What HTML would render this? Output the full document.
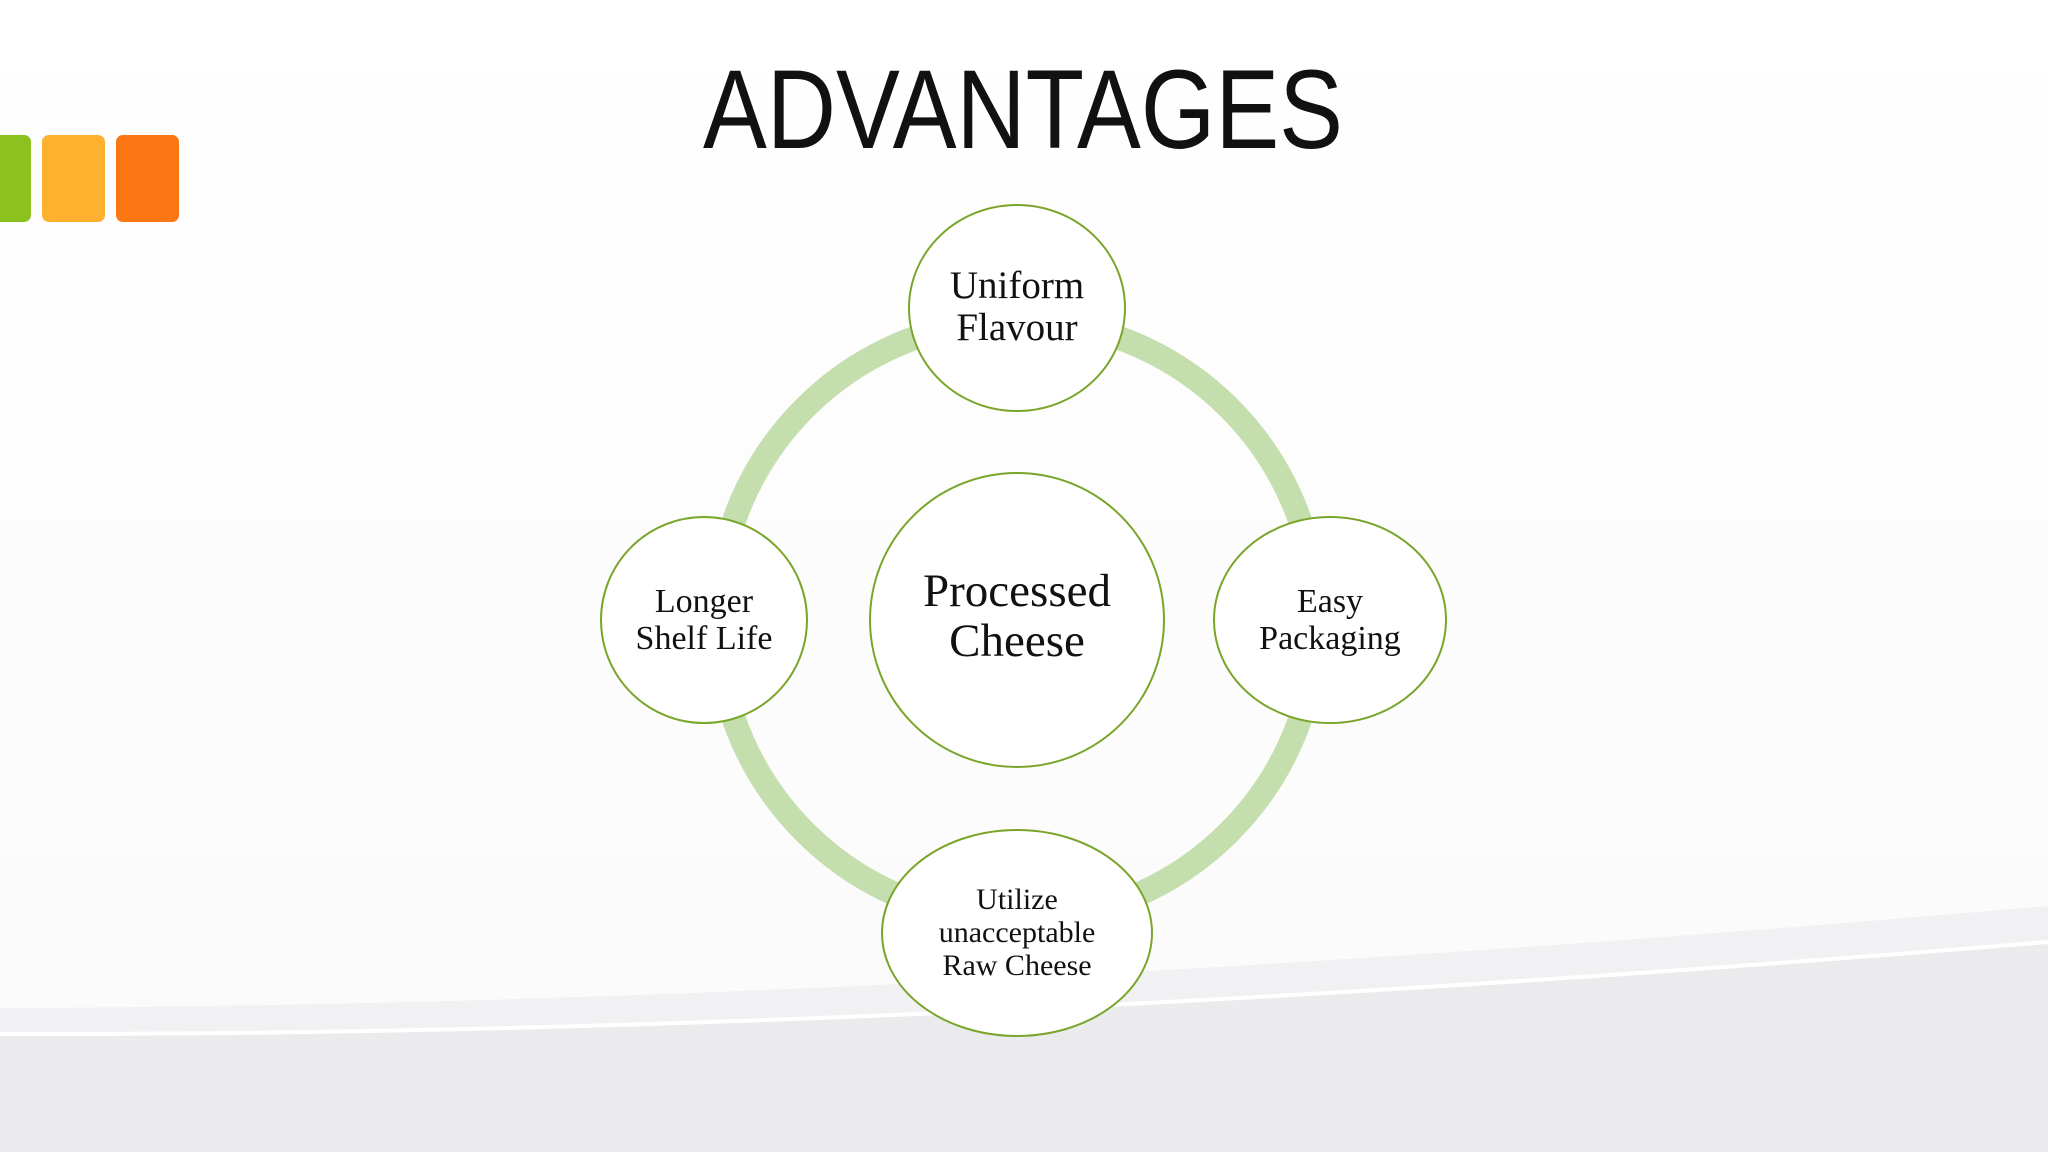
<!DOCTYPE html>
<html><head><meta charset="utf-8"><style>
html,body{margin:0;padding:0;background:#fff;}
svg{display:block;}
</style></head><body>
<svg width="2048" height="1152" viewBox="0 0 2048 1152" xmlns="http://www.w3.org/2000/svg">
<defs>
<linearGradient id="bg" x1="0" y1="0" x2="0" y2="1">
<stop offset="0" stop-color="#ffffff"/><stop offset="1" stop-color="#fafafa"/>
</linearGradient>
</defs>
<rect width="2048" height="1152" fill="url(#bg)"/>
<!-- bottom swoosh -->
<path d="M0 1008 Q900 1005 2048 906 L2048 1152 L0 1152 Z" fill="#f1f1f3"/>
<path d="M0 1034 Q900 1036 2048 942 L2048 1152 L0 1152 Z" fill="#ebebed"/>
<path d="M0 1034 Q900 1036 2048 942" fill="none" stroke="#ffffff" stroke-width="4"/>
<!-- squares -->
<rect x="-12" y="135" width="43" height="87" rx="7" fill="#8cc21e"/>
<rect x="42" y="135" width="63" height="87" rx="7" fill="#fdb12e"/>
<rect x="116" y="135" width="63" height="87" rx="7" fill="#fd7614"/>
<!-- title -->
<text x="1023" y="148" text-anchor="middle" font-family="Liberation Sans, sans-serif" font-size="112" textLength="640" lengthAdjust="spacingAndGlyphs" fill="#111">ADVANTAGES</text>
<!-- ring -->
<circle cx="1017" cy="620" r="300" fill="none" stroke="#c5dead" stroke-width="24"/>
<g fill="#fff" stroke="#7aa52a" stroke-width="2">
<circle cx="1017" cy="620" r="147"/>
<ellipse cx="1017" cy="308" rx="108" ry="103"/>
<ellipse cx="704" cy="620" rx="103" ry="103"/>
<ellipse cx="1330" cy="620" rx="116" ry="103"/>
<ellipse cx="1017" cy="933" rx="135" ry="103"/>
</g>
<g font-family="Liberation Serif, serif" fill="#111" text-anchor="middle">
<text x="1017" y="606" font-size="47">Processed</text>
<text x="1017" y="656" font-size="47">Cheese</text>
<text x="1017" y="298" font-size="39">Uniform</text>
<text x="1017" y="340" font-size="39">Flavour</text>
<text x="704" y="612" font-size="34">Longer</text>
<text x="704" y="649" font-size="34">Shelf Life</text>
<text x="1330" y="612" font-size="34">Easy</text>
<text x="1330" y="649" font-size="34">Packaging</text>
<text x="1017" y="909" font-size="30">Utilize</text>
<text x="1017" y="942" font-size="30">unacceptable</text>
<text x="1017" y="975" font-size="30">Raw Cheese</text>
</g>
</svg>
</body></html>
